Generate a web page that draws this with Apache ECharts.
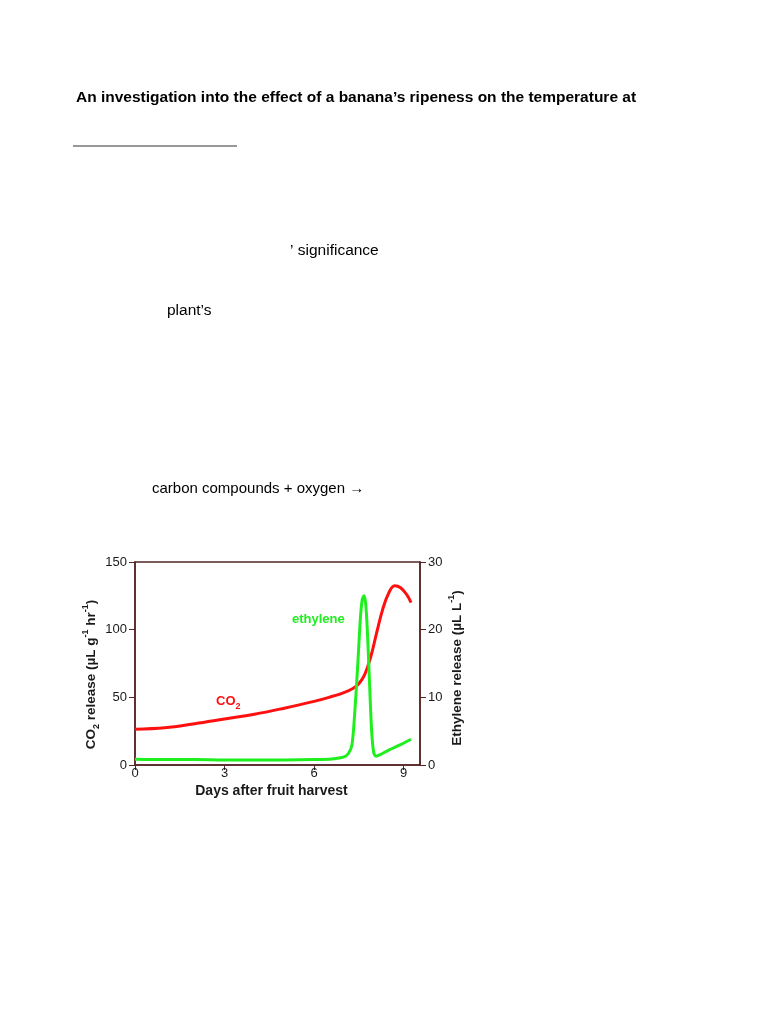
<!DOCTYPE html>
<html><head><meta charset="utf-8">
<script src="https://cdn.jsdelivr.net/npm/echarts@6/dist/echarts.min.js"></script>
<style>html,body{margin:0;padding:0;background:#fff}#c{width:768px;height:1024px}</style>
</head><body><div id="c"></div>
<script>
// Data
var xTicks = [0, 3, 6, 9];
var co2Days = [0, 1, 2, 3, 4, 5, 6, 6.5, 7, 7.3, 7.5, 7.7, 7.9, 8.1, 8.3, 8.5, 8.7, 8.9, 9.1, 9.25];
var co2Values = [26.5, 27.5, 30.5, 34, 37.5, 42, 47, 50, 53.5, 56.5, 60, 67, 80, 98, 115, 127, 132.5, 131, 126, 120];
var ethDays = [0, 1, 2, 3, 4, 5, 6, 6.6, 7.0, 7.15, 7.27, 7.36, 7.46, 7.55, 7.61, 7.67, 7.73, 7.79, 7.86, 7.93, 8.0, 8.08, 8.2, 8.5, 8.9, 9.25];
var ethValues = [0.85, 0.8, 0.8, 0.75, 0.75, 0.75, 0.8, 0.9, 1.2, 1.7, 3.0, 7.5, 14.5, 21.5, 24.3, 25, 23.8, 19.5, 12, 5, 1.8, 1.3, 1.5, 2.2, 3.0, 3.8];

var co2Data = co2Days.map(function (d, i) { return [d, co2Values[i]]; });
var ethData = ethDays.map(function (d, i) { return [d, ethValues[i]]; });

var axisColor = '#552424';
var font = '"Liberation Sans", Arial, sans-serif';
function txt(left, top, text, size, weight, color) {
  return { type: 'text', left: left, top: top, style: { text: text, fontSize: size, fontWeight: weight, fontFamily: font, fill: color } };
}
var chart = echarts.init(document.getElementById('c'));
chart.setOption({
  animation: false,
  backgroundColor: '#fff',
  grid: { left: 135, top: 562, width: 285, height: 203 },
  xAxis: {
    type: 'value', min: 0, max: 9.55, interval: 3,
    name: 'Days after fruit harvest', nameLocation: 'middle', nameGap: 19,
    nameTextStyle: { fontFamily: font, fontWeight: 'bold', fontSize: 14, color: '#1a1a1a', padding: [0, 12, 0, 0] },
    axisLine: { lineStyle: { color: axisColor, width: 1.5 } },
    axisTick: { length: 5, lineStyle: { color: axisColor } },
    axisLabel: { fontFamily: font, fontSize: 13, color: '#1a1a1a', margin: 2, showMaxLabel: false,
      formatter: function (v) { return xTicks.indexOf(v) >= 0 ? String(v) : ''; } },
    splitLine: { show: false }
  },
  yAxis: [{
    type: 'value', min: 0, max: 150, interval: 50, position: 'left',
    name: '{b|CO}{s|2}{b| release (µL g}{p|-1}{b| hr}{p|-1}{b|)}', nameLocation: 'middle', nameGap: 27, nameRotate: 90,
    nameTextStyle: { padding: [0, 22, 0, 0], rich: {
      b: { fontFamily: font, fontWeight: 'bold', fontSize: 13.5, color: '#1a1a1a' },
      s: { fontFamily: font, fontWeight: 'bold', fontSize: 9, color: '#1a1a1a', verticalAlign: 'bottom', lineHeight: 20 },
      p: { fontFamily: font, fontWeight: 'bold', fontSize: 9, color: '#1a1a1a', verticalAlign: 'top', lineHeight: 20 }
    } },
    axisLine: { show: true, lineStyle: { color: axisColor, width: 1.5 } },
    axisTick: { show: true, length: 6, lineStyle: { color: axisColor } },
    axisLabel: { fontFamily: font, fontSize: 13, color: '#1a1a1a', margin: 8 },
    splitLine: { show: false }
  }, {
    type: 'value', min: 0, max: 30, interval: 10, position: 'right',
    name: '{b|Ethylene release (µL L}{p|-1}{b|)}', nameLocation: 'middle', nameGap: 27, nameRotate: 90,
    nameTextStyle: { padding: [0, 9, 0, 0], rich: {
      b: { fontFamily: font, fontWeight: 'bold', fontSize: 13.5, color: '#1a1a1a' },
      p: { fontFamily: font, fontWeight: 'bold', fontSize: 9, color: '#1a1a1a', verticalAlign: 'top', lineHeight: 20 }
    } },
    axisLine: { show: true, lineStyle: { color: axisColor, width: 1.5 } },
    axisTick: { show: true, length: 6, lineStyle: { color: axisColor } },
    axisLabel: { fontFamily: font, fontSize: 13, color: '#1a1a1a', margin: 8 },
    splitLine: { show: false }
  }],
  series: [{
    type: 'line', yAxisIndex: 0, data: co2Data, smooth: 0.4, symbol: 'none',
    lineStyle: { color: '#ff1010', width: 3 }
  }, {
    type: 'line', yAxisIndex: 1, data: ethData, smooth: 0.3, symbol: 'none',
    lineStyle: { color: '#1fee1f', width: 3 }
  }],
  graphic: [
    { type: 'rect', shape: { x: 135, y: 562, width: 285, height: 203 }, style: { fill: 'none', stroke: axisColor, lineWidth: 1.5 }, silent: true, z: 0 },
    txt(76, 90, 'An investigation into the effect of a banana\u2019s ripeness on the temperature at', 15.5, 'bold', '#000'),
    { type: 'line', shape: { x1: 73, y1: 146, x2: 237, y2: 146 }, style: { stroke: '#333', lineWidth: 1.2 } },
    txt(290, 243, '\u2019 significance', 15.5, 'normal', '#000'),
    txt(167, 303, 'plant\u2019s', 15.5, 'normal', '#000'),
    txt(152, 481, 'carbon compounds + oxygen \u2192', 15, 'normal', '#000'),
    txt(292, 613, 'ethylene', 13, 'bold', '#1fee1f'),
    { type: 'text', left: 216, top: 695, style: { rich: {
        b: { fontSize: 13, fontWeight: 'bold', fontFamily: font, fill: '#ff1010' },
        s: { fontSize: 9, fontWeight: 'bold', fontFamily: font, fill: '#ff1010', verticalAlign: 'bottom', lineHeight: 20 } },
      text: '{b|CO}{s|2}' } }
  ]
});
</script></body></html>
